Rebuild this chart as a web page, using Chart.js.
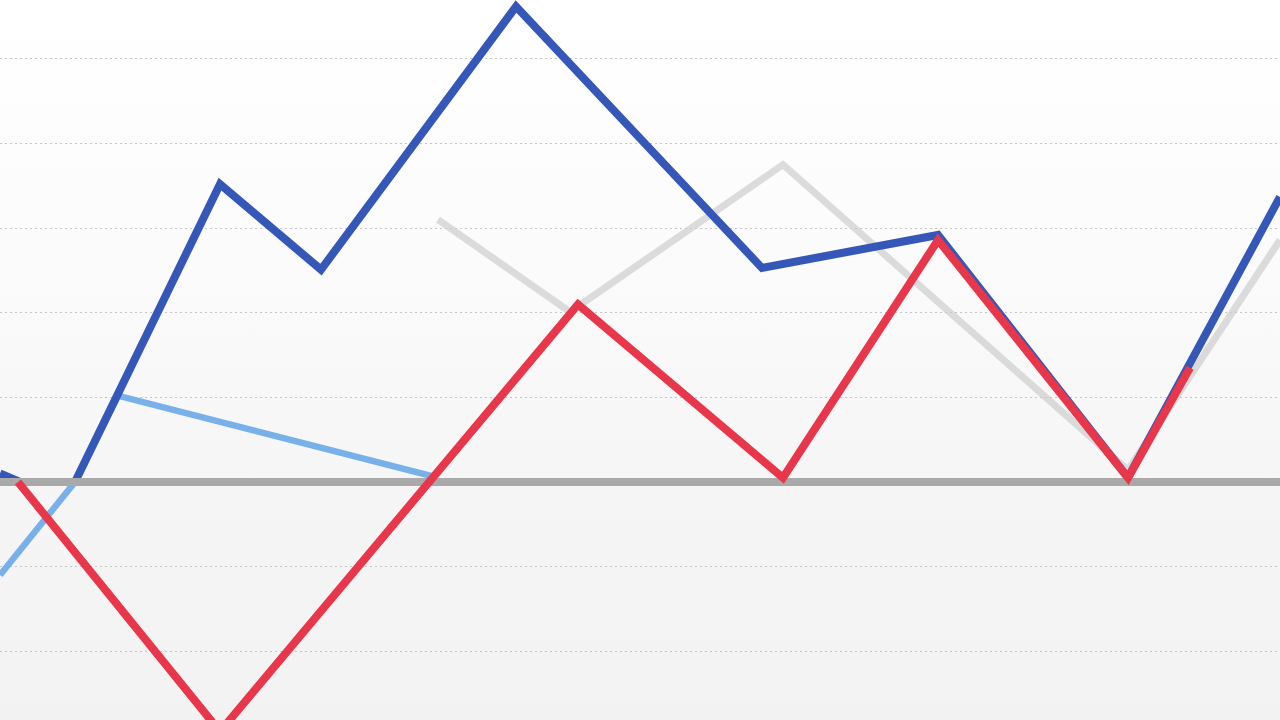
<!DOCTYPE html>
<html>
<head>
<meta charset="utf-8">
<script src="https://cdn.jsdelivr.net/npm/chart.js@4/dist/chart.umd.min.js"></script>
<style>
  html, body { margin: 0; padding: 0; }
  body {
    width: 1280px;
    height: 720px;
    overflow: hidden;
    background: linear-gradient(#ffffff 0%, #fcfcfc 30%, #f5f5f5 70%, #f2f2f2 100%);
  }
  .box__chart { position: relative; width: 1280px; height: 720px; }
</style>
</head>
<body>
<div class="box__chart"><canvas id="myChart"></canvas></div>
<script>
// values (x in picture units 0..1280, y in grid steps, 0 = baseline)
const darkBlueX = [0, 20, 75, 220, 321, 516, 762, 938, 1128, 1280];
const darkBlueY = [0.1, 0, 0, 3.52, 2.51, 5.62, 2.53, 2.92, 0.05, 3.37];
const lightBlueX = [0, 75, 118, 432];
const lightBlueY = [-1.1, 0, 1.02, 0.07];
const redX = [18, 220, 578, 783, 938, 1128, 1190];
const redY = [0, -2.95, 2.1, 0.05, 2.86, 0.05, 1.35];
const greyX = [438, 570, 783, 1128, 1280];
const greyY = [3.1, 2.01, 3.75, 0.14, 2.86];
const baseX = [0, 1280];
const baseY = [0, 0];
const yMin = -2.813;
const yMax = 5.697;

function toPoints(xs, ys) {
  return xs.map((x, i) => ({ x: x, y: ys[i] }));
}

function lineSet(label, xs, ys, color, width, order) {
  return {
    label: label,
    data: toPoints(xs, ys),
    borderColor: color,
    borderWidth: width,
    pointRadius: 0,
    tension: 0,
    fill: false,
    borderJoinStyle: "miter",
    borderCapStyle: "butt",
    order: order,
  };
}

function designChart() {
  const ctx = document.getElementById("myChart").getContext("2d");
  new Chart(ctx, {
    type: "line",
    data: {
      datasets: [
        lineSet("Red", redX, redY, "#e8364a", 8, 0),
        lineSet("Base", baseX, baseY, "#a9a9a9", 8, 1),
        lineSet("Dark blue", darkBlueX, darkBlueY, "#3558b8", 8, 2),
        lineSet("Light blue", lightBlueX, lightBlueY, "#78b0ea", 6.5, 3),
        lineSet("Grey", greyX, greyY, "rgba(205,205,205,0.7)", 7, 4),
      ],
    },
    options: {
      responsive: true,
      maintainAspectRatio: false,
      animation: false,
      layout: { padding: 0 },
      scales: {
        x: {
          type: "linear",
          min: 0,
          max: 1280,
          display: false,
        },
        y: {
          type: "linear",
          min: yMin,
          max: yMax,
          ticks: { display: false, stepSize: 1 },
          grid: {
            drawTicks: false,
            lineWidth: 1,
            color: (c) =>
              Number.isInteger(c.tick.value) && c.tick.value !== 0
                ? "#c4c4c4"
                : "transparent",
          },
          border: { display: false, dash: [2, 3] },
        },
      },
      plugins: {
        legend: { display: false },
        title: { display: false },
        tooltip: { enabled: false },
      },
    },
  });
}
designChart();
</script>
</body>
</html>
